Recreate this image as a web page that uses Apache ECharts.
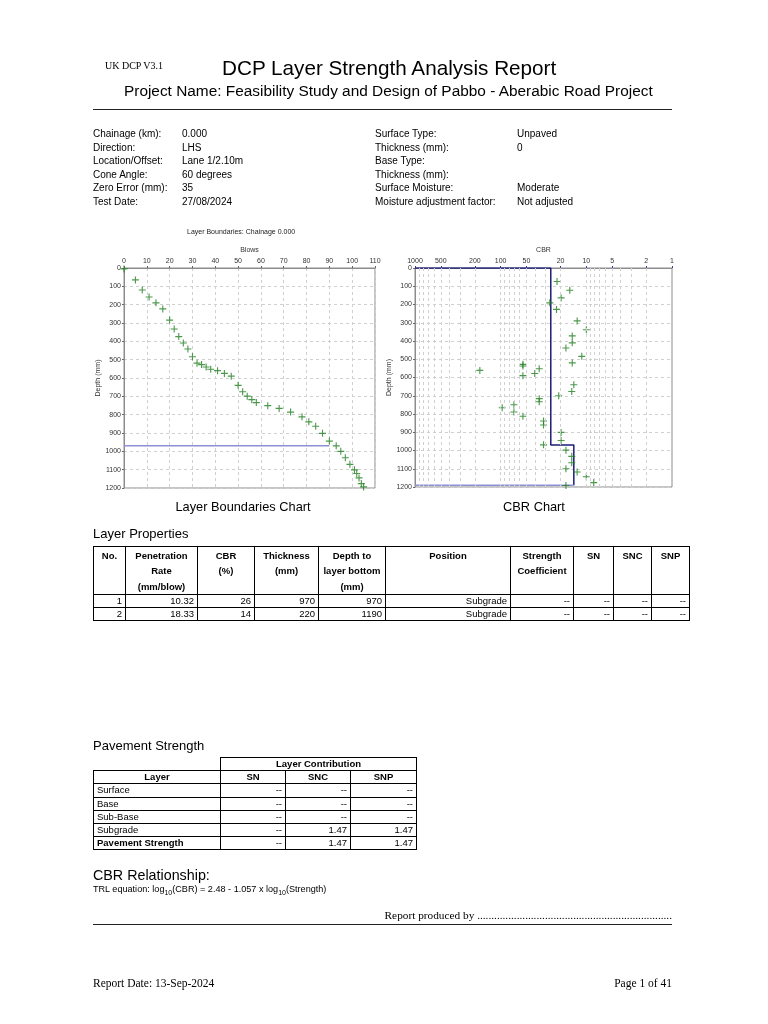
<!DOCTYPE html>
<html><head><meta charset="utf-8">
<script src="https://cdn.jsdelivr.net/npm/echarts@6/dist/echarts.min.js"></script>
<style>
html,body{margin:0;padding:0;background:#fff;}
body{width:768px;height:1024px;position:relative;overflow:hidden;font-family:"Liberation Sans",Arial,sans-serif;color:#000;}
#chart{position:absolute;left:0;top:0;width:768px;height:1024px;}
.abs{position:absolute;white-space:nowrap;}
.serif{font-family:"Liberation Serif","Times New Roman",serif;}
.info{font-size:10px;line-height:13.6px;}
table{border-collapse:collapse;position:absolute;font-size:9.5px;table-layout:fixed;}
td,th{border:1px solid #000;padding:0 3px;white-space:nowrap;overflow:hidden;}
#t1 th{font-weight:bold;text-align:center;vertical-align:top;line-height:15.4px;height:46px;padding-top:1px;}
#t1 td{height:12px;line-height:12px;text-align:right;}
#t2 td,#t2 th{height:12.2px;line-height:12.2px;}
#t2 th{text-align:center;font-weight:bold;}
#t2 td{text-align:right;}
#t2 td.l{text-align:left;}
</style>
</head><body>
<div id="chart"></div>

<div class="abs serif" style="left:105px;top:60px;font-size:10px;">UK DCP V3.1</div>
<div class="abs" style="left:222px;top:55px;font-size:20.7px;line-height:25px;">DCP Layer Strength Analysis Report</div>
<div class="abs" style="left:124px;top:81px;font-size:15.4px;line-height:19px;">Project Name: Feasibility Study and Design of Pabbo - Aberabic Road Project</div>
<div class="abs" style="left:93px;top:109px;width:579px;height:0;border-top:1.5px solid #222;"></div>

<div class="abs info" style="left:93px;top:127px;">Chainage (km):<br>Direction:<br>Location/Offset:<br>Cone Angle:<br>Zero Error (mm):<br>Test Date:</div>
<div class="abs info" style="left:182px;top:127px;">0.000<br>LHS<br>Lane 1/2.10m<br>60 degrees<br>35<br>27/08/2024</div>
<div class="abs info" style="left:375px;top:127px;">Surface Type:<br>Thickness (mm):<br>Base Type:<br>Thickness (mm):<br>Surface Moisture:<br>Moisture adjustment factor:</div>
<div class="abs info" style="left:517px;top:127px;">Unpaved<br>0<br><br><br>Moderate<br>Not adjusted</div>

<div class="abs" style="left:187px;top:228px;font-size:7px;color:#222;">Layer Boundaries: Chainage 0.000</div>
<div class="abs" style="left:243px;top:499px;font-size:12.8px;transform:translateX(-50%);">Layer Boundaries Chart</div>
<div class="abs" style="left:534px;top:499px;font-size:12.8px;transform:translateX(-50%);">CBR Chart</div>

<div class="abs" style="left:93px;top:526px;font-size:13px;">Layer Properties</div>
<table id="t1" style="left:93px;top:546px;width:596px;">
<colgroup><col style="width:32px"><col style="width:72px"><col style="width:57px"><col style="width:64px"><col style="width:67px"><col style="width:125px"><col style="width:63px"><col style="width:40px"><col style="width:38px"><col style="width:38px"></colgroup>
<tbody id="t1body"></tbody>
</table>

<div class="abs" style="left:93px;top:738px;font-size:13px;">Pavement Strength</div>
<table id="t2" style="left:93px;top:757px;width:323px;">
<colgroup><col style="width:127px"><col style="width:65px"><col style="width:65px"><col style="width:66px"></colgroup>
<tbody id="t2body"></tbody>
</table>

<div class="abs" style="left:93px;top:867px;font-size:14.3px;">CBR Relationship:</div>
<div class="abs" style="left:93px;top:884px;font-size:9.1px;">TRL equation: log<sub style="font-size:7px;">10</sub>(CBR) = 2.48 - 1.057 x log<sub style="font-size:7px;">10</sub>(Strength)</div>
<div class="abs serif" style="right:96px;top:909px;font-size:11.3px;">Report produced by .....................................................................</div>
<div class="abs" style="left:93px;top:924px;width:579px;height:0;border-top:1.5px solid #222;"></div>
<div class="abs serif" style="left:93px;top:977px;font-size:11.5px;">Report Date: 13-Sep-2024</div>
<div class="abs serif" style="right:96px;top:977px;font-size:11.5px;">Page 1 of 41</div>

<script>
// ---- Data ----
const blowTicks = [0, 10, 20, 30, 40, 50, 60, 70, 80, 90, 100, 110];
const depthTicks = [0, 100, 200, 300, 400, 500, 600, 700, 800, 900, 1000, 1100, 1200];
const cbrTickLabels = [1000, 500, 200, 100, 50, 20, 10, 5, 2, 1];
const cbrGridValues = [2,3,4,5,6,7,8,9,10,20,30,40,50,60,70,80,90,100,200,300,400,500,600,700,800,900];

const blows = [0, 5, 8, 11, 14, 17, 20, 22, 24, 26, 28, 30, 32, 34, 36, 38, 41, 44, 47, 50, 52, 54, 56, 58, 63, 68, 73, 78, 81, 84, 87, 90, 93, 95, 97, 99, 101, 102, 103, 104, 105];
const blowDepths = [5, 65, 120, 158, 190, 223, 284, 333, 374, 409, 442, 484, 519, 527, 540, 552, 560, 575, 590, 640, 675, 699, 718, 734, 751, 766, 786, 812, 839, 863, 902, 944, 970, 1000, 1035, 1071, 1101, 1121, 1145, 1176, 1194];

const cbrValues = [22, 15.6, 19.7, 26.7, 22.3, 12.8, 10, 14.6, 14.6, 17.3, 11.3, 14.6, 55, 55, 35.5, 175, 40, 55, 14, 14.8, 21, 35.5, 35.5, 70, 96, 70, 55, 31.6, 31.6, 19.7, 19.7, 31.6, 17.3, 14.8, 14.8, 17.3, 12.8, 10, 8.2, 17.3];
const cbrDepths = [74, 122, 164, 191, 227, 290, 338, 372, 410, 438, 484, 520, 528, 537, 552, 561, 578, 590, 640, 677, 700, 716, 733, 749, 766, 789, 812, 838, 860, 901, 945, 969, 998, 1032, 1067, 1100, 1118, 1144, 1176, 1192];

const layerNo = [1, 2];
const layerPenRate = ['10.32', '18.33'];
const layerCBR = [26, 14];
const layerThickness = [970, 220];
const layerBottom = [970, 1190];
const layerPosition = ['Subgrade', 'Subgrade'];
const boundaryBlows = 90;

const pavLayers = ['Surface', 'Base', 'Sub-Base', 'Subgrade', 'Pavement Strength'];
const pavSN = ['--', '--', '--', '--', '--'];
const pavSNC = ['--', '--', '--', '1.47', '1.47'];
const pavSNP = ['--', '--', '--', '1.47', '1.47'];

// ---- Tables ----
(function(){
  let h = '<tr><th>No.</th><th>Penetration<br>Rate<br>(mm/blow)</th><th>CBR<br>(%)</th><th>Thickness<br>(mm)</th><th>Depth to<br>layer bottom<br>(mm)</th><th>Position</th><th>Strength<br>Coefficient</th><th>SN</th><th>SNC</th><th>SNP</th></tr>';
  for (let i = 0; i < layerNo.length; i++) {
    h += '<tr><td>' + layerNo[i] + '</td><td>' + layerPenRate[i] + '</td><td>' + layerCBR[i] + '</td><td>' + layerThickness[i] + '</td><td>' + layerBottom[i] + '</td><td>' + layerPosition[i] + '</td><td>--</td><td>--</td><td>--</td><td>--</td></tr>';
  }
  document.getElementById('t1body').innerHTML = h;
  let g = '<tr><td style="border:none;border-bottom:1px solid #000;"></td><th colspan="3">Layer Contribution</th></tr>';
  g += '<tr><th>Layer</th><th>SN</th><th>SNC</th><th>SNP</th></tr>';
  for (let i = 0; i < pavLayers.length; i++) {
    const b = i === pavLayers.length - 1 ? ' style="font-weight:bold"' : '';
    g += '<tr><td class="l"' + b + '>' + pavLayers[i] + '</td><td>' + pavSN[i] + '</td><td>' + pavSNC[i] + '</td><td>' + pavSNP[i] + '</td></tr>';
  }
  document.getElementById('t2body').innerHTML = g;
})();

// ---- Chart ----
const chart = echarts.init(document.getElementById('chart'));
const plus = 'path://M4.2,0 H5.8 V4.2 H10 V5.8 H5.8 V10 H4.2 V5.8 H0 V4.2 H4.2 Z';
const green = '#1f7f1f';
const gridLine = {lineStyle: {color: '#d0d0d0', type: [3, 3], width: 1}};
const fmt = v => String(v);
const axisLbl = {fontSize: 7, color: '#333', margin: 3, fontFamily: 'Liberation Sans', formatter: fmt};
const nameStyle = {fontSize: 7, color: '#333', fontFamily: 'Liberation Sans'};

const profile = [[1000, 0]];
let layerTop = 0;
for (let i = 0; i < layerCBR.length; i++) {
  profile.push([layerCBR[i], layerTop]);
  profile.push([layerCBR[i], layerBottom[i]]);
  layerTop = layerBottom[i];
}

chart.setOption({
  animation: false,
  grid: [
    {left: 124, top: 268, width: 251, height: 220, show: true, borderColor: '#8c8c8c', borderWidth: 1, backgroundColor: '#fff'},
    {left: 415, top: 268, width: 257, height: 219, show: true, borderColor: '#8c8c8c', borderWidth: 1, backgroundColor: '#fff'}
  ],
  xAxis: [
    {gridIndex: 0, type: 'value', position: 'top', min: 0, max: 110, interval: 10,
     name: 'Blows', nameLocation: 'middle', nameGap: 14, nameTextStyle: nameStyle,
     axisLine: {lineStyle: {color: '#8c8c8c'}}, axisTick: {length: 2, lineStyle: {color: '#666'}},
     axisLabel: axisLbl, splitLine: gridLine},
    {gridIndex: 1, type: 'log', logBase: 10, min: 1, max: 1000, inverse: true, position: 'top',
     name: 'CBR', nameLocation: 'middle', nameGap: 14, nameTextStyle: nameStyle,
     axisLine: {lineStyle: {color: '#8c8c8c'}},
     axisTick: {length: 2, customValues: cbrTickLabels, lineStyle: {color: '#3a3aa0'}},
     axisLabel: Object.assign({}, axisLbl, {customValues: cbrTickLabels}),
     splitLine: {show: false}}
  ],
  yAxis: [
    {gridIndex: 0, type: 'value', inverse: true, min: 0, max: 1200, interval: 100,
     name: 'Depth (mm)', nameLocation: 'middle', nameGap: 22, nameRotate: 90, nameTextStyle: nameStyle,
     axisLine: {lineStyle: {color: '#8c8c8c'}}, axisTick: {length: 2, lineStyle: {color: '#666'}},
     axisLabel: axisLbl, splitLine: gridLine},
    {gridIndex: 1, type: 'value', inverse: true, min: 0, max: 1200, interval: 100,
     name: 'Depth (mm)', nameLocation: 'middle', nameGap: 22, nameRotate: 90, nameTextStyle: nameStyle,
     axisLine: {lineStyle: {color: '#8c8c8c'}}, axisTick: {length: 2, lineStyle: {color: '#666'}},
     axisLabel: axisLbl, splitLine: gridLine}
  ],
  series: [
    {type: 'line', xAxisIndex: 1, yAxisIndex: 1, data: [[1000, 0]], showSymbol: false, silent: true,
     lineStyle: {opacity: 0}, z: 1,
     markLine: {silent: true, symbol: 'none', label: {show: false}, animation: false,
       lineStyle: {color: '#d0d0d0', type: [3, 3], width: 1},
       data: cbrGridValues.map(v => ({xAxis: v}))}},
    {type: 'line', xAxisIndex: 0, yAxisIndex: 0, data: [[0, layerBottom[0]], [boundaryBlows, layerBottom[0]]],
     showSymbol: false, lineStyle: {color: '#8f8fd8', width: 1.5}, z: 3},
    {type: 'scatter', xAxisIndex: 0, yAxisIndex: 0, data: blows.map((b, i) => [b, blowDepths[i]]),
     symbol: plus, symbolSize: 7, itemStyle: {color: green}, z: 4},
    {type: 'line', xAxisIndex: 1, yAxisIndex: 1, data: profile,
     showSymbol: false, lineStyle: {color: '#1c1c78', width: 1.5}, z: 3},
    {type: 'line', xAxisIndex: 1, yAxisIndex: 1, data: [[layerCBR[layerCBR.length - 1], layerBottom[layerBottom.length - 1]], [1000, layerBottom[layerBottom.length - 1]]],
     showSymbol: false, lineStyle: {color: '#8f8fd8', width: 1.5}, z: 3},
    {type: 'scatter', xAxisIndex: 1, yAxisIndex: 1, data: cbrValues.map((c, i) => [c, cbrDepths[i]]),
     symbol: plus, symbolSize: 7, itemStyle: {color: green}, z: 4}
  ]
});
</script>
</body></html>
